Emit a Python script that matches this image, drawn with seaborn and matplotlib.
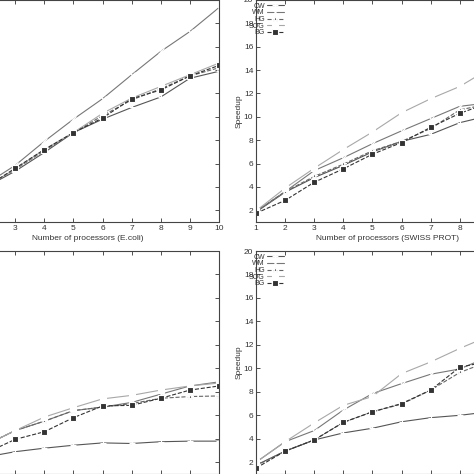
import matplotlib
matplotlib.use("Agg")
import matplotlib.pyplot as plt
import seaborn as sns
import numpy as np

# processors on the x axis
procs = [1, 2, 3, 4, 5, 6, 7, 8, 9, 10]
series_names = ["CW", "WM", "HG", "SOG", "BG"]

# top left: E.coli
ecoli_cw = [1.9, 4.0, 5.35, 6.95, 8.65, 9.8, 10.8, 11.7, 13.3, 13.9]
ecoli_wm = [1.9, 4.25, 5.85, 7.9, 9.8, 11.55, 13.6, 15.6, 17.3, 19.35]
ecoli_hg = [1.9, 4.0, 5.5, 7.1, 8.65, 10.1, 11.45, 12.4, 13.5, 14.2]
ecoli_sog = [1.9, 4.0, 5.55, 7.2, 8.65, 10.3, 11.6, 12.6, 13.6, 14.6]
ecoli_bg = [1.9, 4.0, 5.6, 7.2, 8.65, 9.9, 11.55, 12.3, 13.5, 14.4]

# top right: SWISS PROT
swiss_cw = [1.85, 3.55, 4.8, 5.85, 7.0, 7.9, 8.5, 9.5, 10.1, 10.6]
swiss_wm = [1.9, 3.6, 5.4, 6.5, 7.7, 8.8, 9.85, 10.9, 11.2, 11.6]
swiss_hg = [1.9, 3.6, 4.9, 5.95, 7.1, 7.9, 9.0, 10.6, 11.1, 11.5]
swiss_sog = [1.95, 3.9, 5.6, 7.2, 8.7, 10.35, 11.55, 12.6, 14.1, 15.3]
swiss_bg = [1.75, 2.85, 4.4, 5.55, 6.8, 7.8, 9.1, 10.3, 11.2, 11.9]

# bottom left
bl_cw = [1.9, 2.45, 2.9, 3.2, 3.45, 3.65, 3.6, 3.75, 3.8, 3.8]
bl_wm = [1.9, 3.5, 4.7, 5.5, 6.4, 6.7, 7.1, 7.8, 8.5, 8.85]
bl_hg = [1.9, 3.5, 4.7, 5.5, 6.4, 6.7, 7.0, 7.45, 7.6, 7.65]
bl_sog = [1.9, 3.5, 4.7, 5.85, 6.65, 7.4, 7.7, 8.15, 8.5, 8.75]
bl_bg = [1.9, 2.8, 3.95, 4.6, 5.8, 6.8, 6.85, 7.45, 8.15, 8.5]

# bottom right
br_cw = [1.75, 2.95, 3.9, 4.5, 4.9, 5.45, 5.8, 6.0, 6.3, 6.5]
br_wm = [2.0, 3.75, 4.7, 6.45, 7.85, 8.7, 9.5, 9.95, 11.0, 11.8]
br_hg = [1.7, 2.95, 3.9, 5.4, 6.3, 6.95, 8.15, 9.65, 10.6, 11.3]
br_sog = [2.0, 3.75, 5.35, 6.85, 7.6, 9.55, 10.55, 11.7, 12.75, 13.8]
br_bg = [1.5, 2.95, 3.9, 5.4, 6.3, 7.0, 8.15, 10.1, 10.6, 11.2]

#line look per series (gnuplot-ish greys)
styles = {
    "CW": dict(color="#555555", marker="+", linestyle="-", markersize=4.5),
    "WM": dict(color="#777777", marker="x", linestyle="-", markersize=4),
    "HG": dict(color="#666666", marker="*", linestyle="--", markersize=4),
    "SOG": dict(color="#a8a8a8", marker="s", linestyle="-", markersize=4.2,
                markerfacecolor="white"),
    "BG": dict(color="#333333", marker="s", linestyle="--", markersize=4.2),
}

sns.set_style("ticks")
plt.rcParams["font.family"] = ["Liberation Sans", "DejaVu Sans"]

fig = plt.figure(figsize=(4.74, 4.74), dpi=100)
W = 474.0

panels = [
    ([-43 / W, 252 / W, 262 / W, 222 / W], [ecoli_cw, ecoli_wm, ecoli_hg, ecoli_sog, ecoli_bg],
     "Number of processors (E.coli)"),
    ([256 / W, 252 / W, 262 / W, 222 / W], [swiss_cw, swiss_wm, swiss_hg, swiss_sog, swiss_bg],
     "Number of processors (SWISS PROT)"),
    ([-43 / W, 0, 262 / W, 223 / W], [bl_cw, bl_wm, bl_hg, bl_sog, bl_bg],
     "Number of processors"),
    ([256 / W, 0, 262 / W, 223 / W], [br_cw, br_wm, br_hg, br_sog, br_bg],
     "Number of processors"),
]

for rect, data, xlab in panels:
    ax = fig.add_axes(rect)
    for name, vals in zip(series_names, data):
        sns.lineplot(x=procs, y=vals, ax=ax, label=name, linewidth=0.8,
                     markeredgewidth=0.8, **styles[name])
    ax.set_xlim(1, 10)
    ax.set_ylim(1, 20)
    ax.set_xticks(procs)
    ax.set_yticks(np.arange(2, 21, 2))
    ax.tick_params(direction="in", top=True, right=True, length=3, width=0.6,
                   labelsize=6, pad=2, colors="#333333")
    for side in ["left", "right"]:
        ax.spines[side].set_linewidth(0.8)
        ax.spines[side].set_color("#444444")
    for side in ["top", "bottom"]:
        ax.spines[side].set_linewidth(0.8)
        ax.spines[side].set_color("#444444")
        ax.spines[side].set_linestyle((0, (1, 1)))
    ax.set_xlabel(xlab, fontsize=6, labelpad=2, color="#333333")
    ax.set_ylabel("Speedup", fontsize=6, labelpad=1, color="#333333")
    leg = ax.legend(loc="upper left", bbox_to_anchor=(-0.045, 1.01), frameon=False,
                    markerfirst=False, fontsize=5, handlelength=2.4,
                    handletextpad=0.3, labelspacing=-0.05, borderpad=0.2)
    for t in leg.get_texts():
        t.set_color("#333333")

fig.savefig("out.png", dpi=100)
